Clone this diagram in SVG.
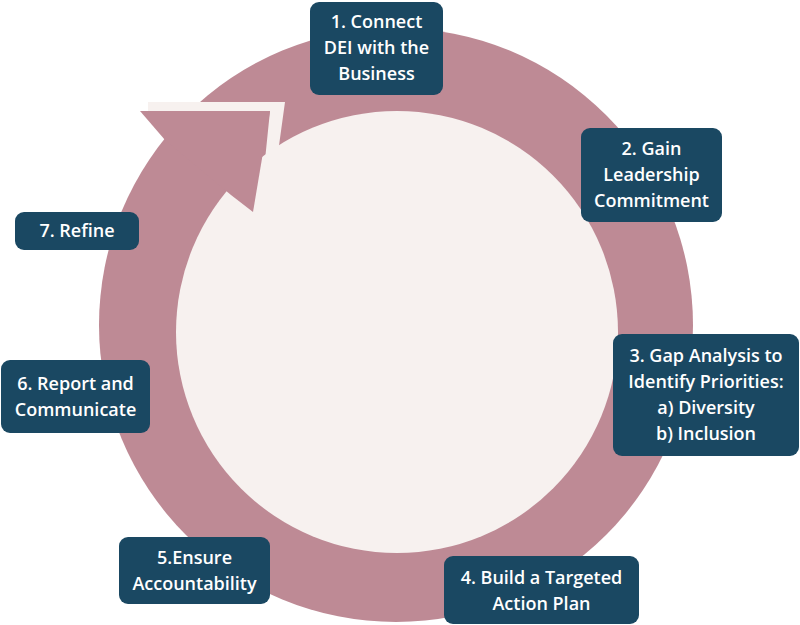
<svg xmlns="http://www.w3.org/2000/svg" width="800" height="625" viewBox="0 0 800 625">
<style>
.b{fill:#1a4862}
.t{fill:#fff;font-family:"Open Sans",sans-serif;font-size:18px;font-weight:600;text-anchor:middle}
</style>
<rect width="800" height="625" fill="#fff"/>
<g id="ring">
<circle cx="396" cy="325" r="297" fill="#be8a95"/>
<circle cx="397" cy="332" r="221" fill="#f7f1ef"/>
</g>
<g id="connectors">
<polygon points="148,102 285,102 277,160 265,160 270,111 148,111" fill="#f7f1ef"/>
<polygon points="140,111 270,111 253,212 231,195 165,140" fill="#be8a95"/>
</g>
<g id="n1"><rect class="b" x="310" y="2" width="133" height="93" rx="9"/><text class="t"><tspan x="376.5" y="28">1. Connect</tspan><tspan x="376.5" y="54">DEI with the</tspan><tspan x="376.5" y="80">Business</tspan></text></g>
<g id="n2"><rect class="b" x="581" y="128" width="141" height="94" rx="9"/><text class="t"><tspan x="651.5" y="155">2. Gain</tspan><tspan x="651.5" y="181">Leadership</tspan><tspan x="651.5" y="207">Commitment</tspan></text></g>
<g id="n3"><rect class="b" x="613" y="334" width="186" height="122" rx="9"/><text class="t"><tspan x="706" y="362">3. Gap Analysis to</tspan><tspan x="706" y="388">Identify Priorities:</tspan><tspan x="706" y="414">a) Diversity</tspan><tspan x="706" y="440">b) Inclusion</tspan></text></g>
<g id="n4"><rect class="b" x="444" y="556" width="195" height="68" rx="9"/><text class="t"><tspan x="541.5" y="584">4. Build a Targeted</tspan><tspan x="541.5" y="610">Action Plan</tspan></text></g>
<g id="n5"><rect class="b" x="119" y="537" width="151" height="67" rx="9"/><text class="t"><tspan x="194.5" y="564">5.Ensure</tspan><tspan x="194.5" y="590">Accountability</tspan></text></g>
<g id="n6"><rect class="b" x="1" y="360" width="149" height="73" rx="9"/><text class="t"><tspan x="75.5" y="390">6. Report and</tspan><tspan x="75.5" y="416">Communicate</tspan></text></g>
<g id="n7"><rect class="b" x="15" y="212" width="124" height="38" rx="9"/><text class="t" x="77" y="237">7. Refine</text></g>
</svg>
